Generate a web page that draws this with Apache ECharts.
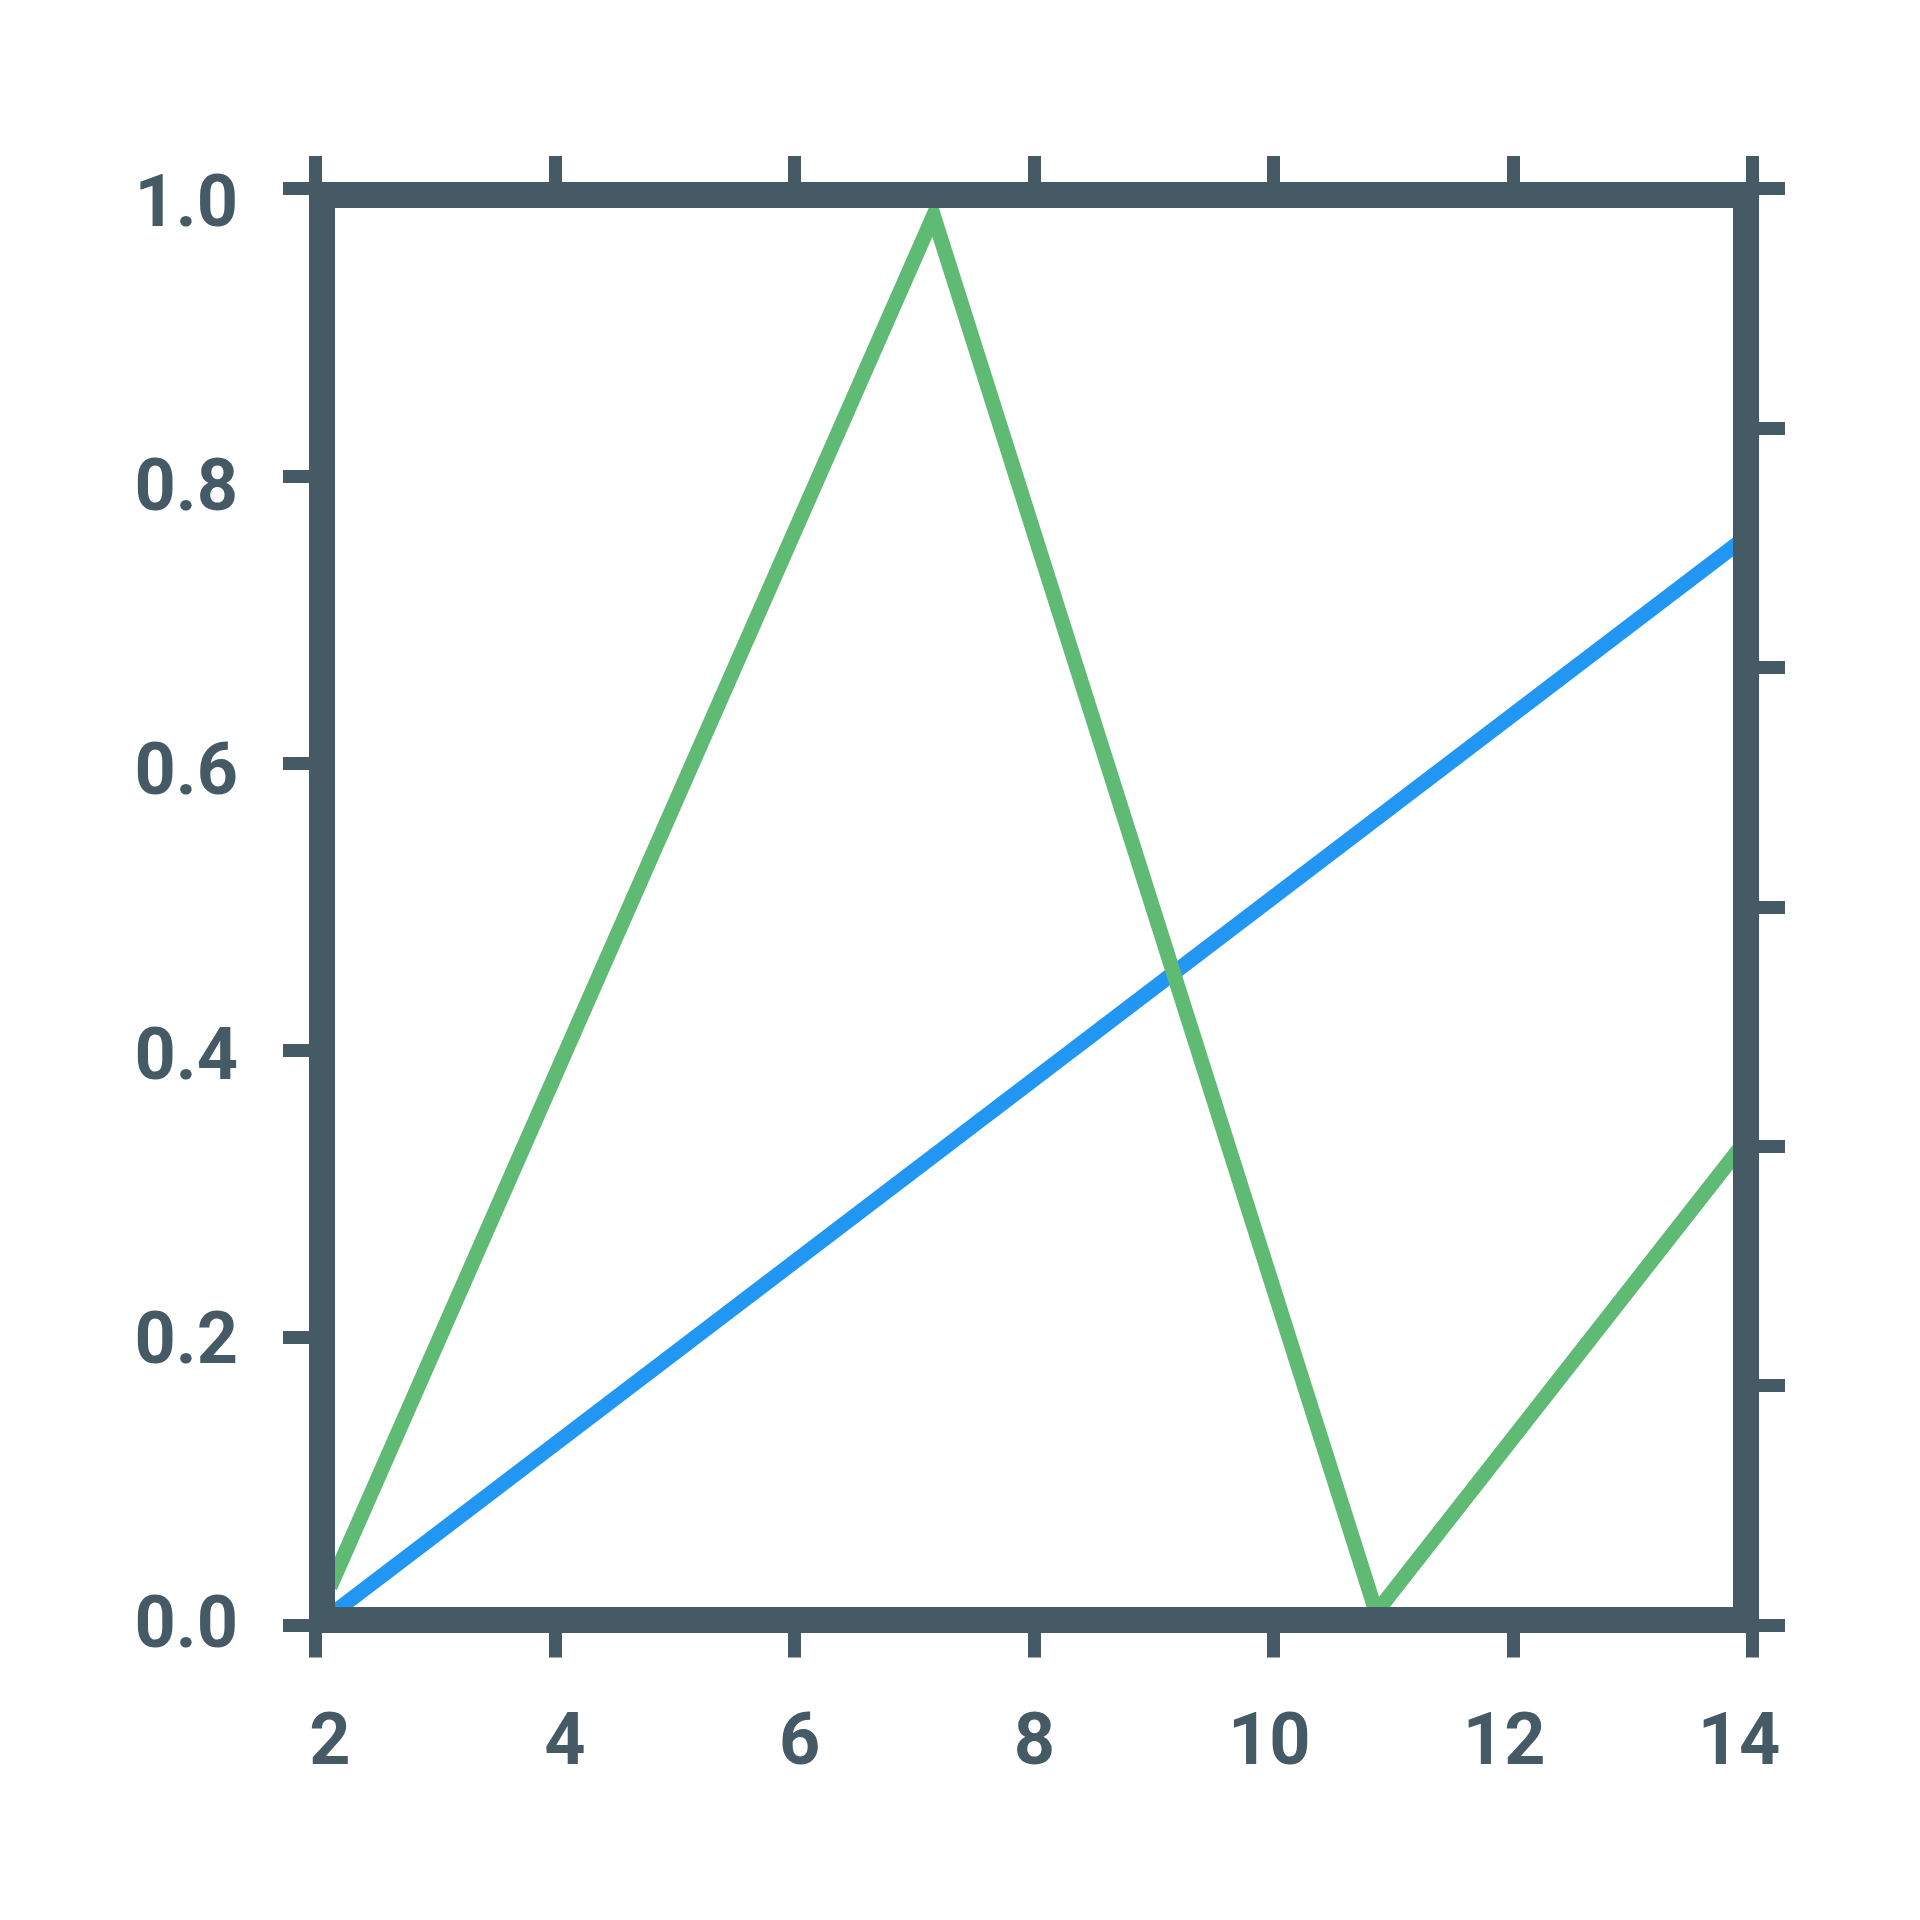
<!DOCTYPE html>
<html>
<head>
<meta charset="utf-8">
<script src="https://cdn.jsdelivr.net/npm/echarts@6/dist/echarts.min.js"></script>
<style>html,body{margin:0;padding:0;background:#fff;}#c{width:1920px;height:1920px;}</style>
</head>
<body>
<div id="c"></div>
<script>
// ---- data ----
var xTicks = [2, 4, 6, 8, 10, 12, 14];
var yTicks = [0.0, 0.2, 0.4, 0.6, 0.8, 1.0];
var blueX = [2, 14];
var blueY = [0.005, 0.76];
var greenX = [2, 7.14, 10.91, 14];
var greenY = [0.025, 0.99, 0.007, 0.333];

var INK = '#455a64';
function pairs(xs, ys) { return xs.map(function (x, i) { return [x, ys[i]]; }); }

var chart = echarts.init(document.getElementById('c'), null, { renderer: 'canvas' });
var hidden = { show: false };
var labelFont = { color: INK, fontSize: 72, fontWeight: 'bold', fontFamily: 'Roboto', lineHeight: 72 };

var xMin = xTicks[0], xMax = xTicks[xTicks.length - 1];
var yMin = yTicks[0], yMax = yTicks[yTicks.length - 1];

function frameAxis(pos, gi, min, max, interval) {
  return {
    type: 'value', gridIndex: gi, position: pos, min: min, max: max, interval: interval, z: 10,
    axisLine: { show: true, onZero: false, lineStyle: { color: INK, width: 26, cap: 'square' } },
    axisTick: hidden, axisLabel: hidden, splitLine: hidden
  };
}
function tickAxis(pos, gi, min, max, interval) {
  return {
    type: 'value', gridIndex: gi, position: pos, min: min, max: max, interval: interval, z: 10,
    axisLine: { show: false, onZero: false },
    axisTick: { show: true, inside: false, length: 32.5, lineStyle: { color: INK, width: 13 } },
    axisLabel: hidden, splitLine: hidden
  };
}

chart.setOption({
  animation: false,
  backgroundColor: '#ffffff',
  grid: [
    { left: 330, top: 201.5, width: 1409, height: 1421 },
    { left: 322, top: 195, width: 1424, height: 1424.5 },
    { left: 315.5, top: 188.5, width: 1437, height: 1436.5 },
    { left: 330, top: 208, width: 1409, height: 1421 }
  ],
  xAxis: [
    {
      type: 'value', gridIndex: 0, position: 'bottom', min: xMin, max: xMax, interval: 2,
      axisLine: { show: false, onZero: false }, axisTick: hidden, splitLine: hidden,
      axisLabel: Object.assign({ margin: 87, verticalAlign: 'top',
        formatter: function (v) { return String(v); } }, labelFont)
    },
    frameAxis('bottom', 1, 0, 1, 1),
    frameAxis('top', 1, 0, 1, 1),
    tickAxis('bottom', 2, xMin, xMax, 2),
    tickAxis('top', 2, xMin, xMax, 2),
    { type: 'value', gridIndex: 3, min: xMin, max: xMax, show: false }
  ],
  yAxis: [
    {
      type: 'value', gridIndex: 0, position: 'left', min: yMin, max: yMax, interval: 0.2,
      axisLine: { show: false, onZero: false }, axisTick: hidden, splitLine: hidden,
      axisLabel: hidden
    },
    frameAxis('left', 1, 0, 1, 1),
    frameAxis('right', 1, 0, 1, 1),
    tickAxis('left', 2, 0, 1, 0.2),
    tickAxis('right', 2, 0, 6, 1),
    {
      type: 'value', gridIndex: 3, position: 'left', min: yMin, max: yMax, interval: 0.2,
      axisLine: { show: false, onZero: false }, axisTick: hidden, splitLine: hidden,
      axisLabel: Object.assign({ margin: 92,
        formatter: function (v) { return v.toFixed(1); } }, labelFont)
    }
  ],
  series: [
    {
      type: 'line', xAxisIndex: 0, yAxisIndex: 0, data: pairs(blueX, blueY),
      symbol: 'none', z: 2, lineStyle: { color: '#2196f3', width: 15 }
    },
    {
      type: 'line', xAxisIndex: 0, yAxisIndex: 0, data: pairs(greenX, greenY),
      symbol: 'none', z: 3, lineStyle: { color: '#5fba74', width: 15, join: 'miter' }
    }
  ]
});
</script>
</body>
</html>
